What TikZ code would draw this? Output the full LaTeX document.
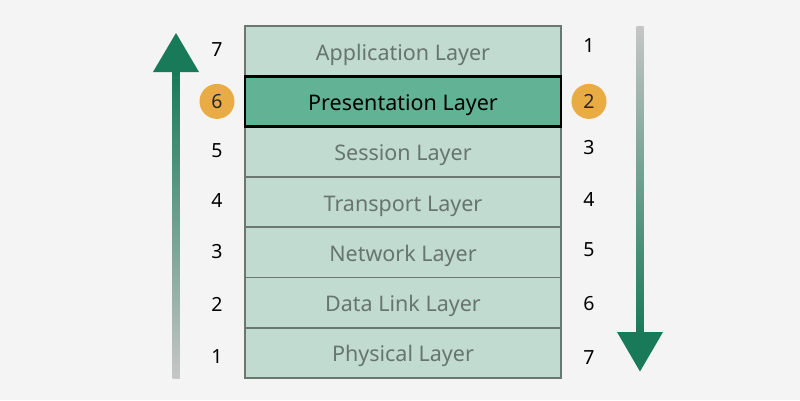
\documentclass[tikz,border=0pt]{standalone}
\usepackage{fontspec}
\setmainfont{Noto Sans}
\definecolor{bg}{HTML}{F4F4F4}
\definecolor{layerfill}{HTML}{C2DBD1}
\definecolor{layerdraw}{HTML}{6B7872}
\definecolor{layertext}{HTML}{66756E}
\definecolor{hifill}{HTML}{62B395}
\definecolor{arrowgreen}{HTML}{187A58}
\definecolor{arrowgray}{HTML}{C6C6C6}
\definecolor{badge}{HTML}{E9AC45}
\tikzset{
  layer/.style={draw=layerdraw, line width=1.8pt, fill=layerfill, text=layertext,
    minimum width=316pt, minimum height=50.3pt, inner sep=0pt,
    text height=18pt, text depth=0pt,
    font=\fontsize{21.5}{24}\selectfont},
  hilayer/.style={layer, draw=black, line width=2.6pt, fill=hifill, text=black},
  num/.style={font=\fontsize{19.5}{22}\selectfont, text=black, inner sep=0pt},
  badgenum/.style={num, circle, fill=badge, minimum size=35pt, text=black!85}
}
\begin{document}
\begin{tikzpicture}[x=1pt,y=-1pt]
\useasboundingbox[fill=bg] (0,0) rectangle (800,400);
% layers
\node[layer] (app) at (403,51.1) {Application Layer};
\node[layer] (ses) at (403,151.7) {Session Layer};
\node[layer] (tra) at (403,202.0) {Transport Layer};
\node[layer] (net) at (403,252.3) {Network Layer};
\node[layer] (dat) at (403,302.6) {Data Link Layer};
\node[layer] (phy) at (403,352.9) {Physical Layer};
\node[hilayer] (pre) at (403,101.4) {Presentation Layer};
% left numbers
\node[num] (l7) at (217,50) {7};
\node[badgenum] (l6) at (217,101.4) {6};
\node[num] (l5) at (217,150.5) {5};
\node[num] (l4) at (217,200.5) {4};
\node[num] (l3) at (217,251.5) {3};
\node[num] (l2) at (217,304) {2};
\node[num] (l1) at (217,357) {1};
% right numbers
\node[num] (r1) at (589,46) {1};
\node[badgenum] (r2) at (589,101.4) {2};
\node[num] (r3) at (589,148) {3};
\node[num] (r4) at (589,199) {4};
\node[num] (r5) at (589,250) {5};
\node[num] (r6) at (589,304) {6};
\node[num] (r7) at (589,358) {7};
% left arrow (up)
\shade[top color=arrowgreen, bottom color=arrowgray] (172.5,71) rectangle (179.5,378);
\fill[arrowgreen] (176,33) -- (199,72) -- (153,72) -- cycle;
% right arrow (down)
\shade[top color=arrowgray, bottom color=arrowgreen] (636.5,26) rectangle (643.5,333);
\fill[arrowgreen] (640,371.5) -- (663,332) -- (617,332) -- cycle;
\end{tikzpicture}
\end{document}
